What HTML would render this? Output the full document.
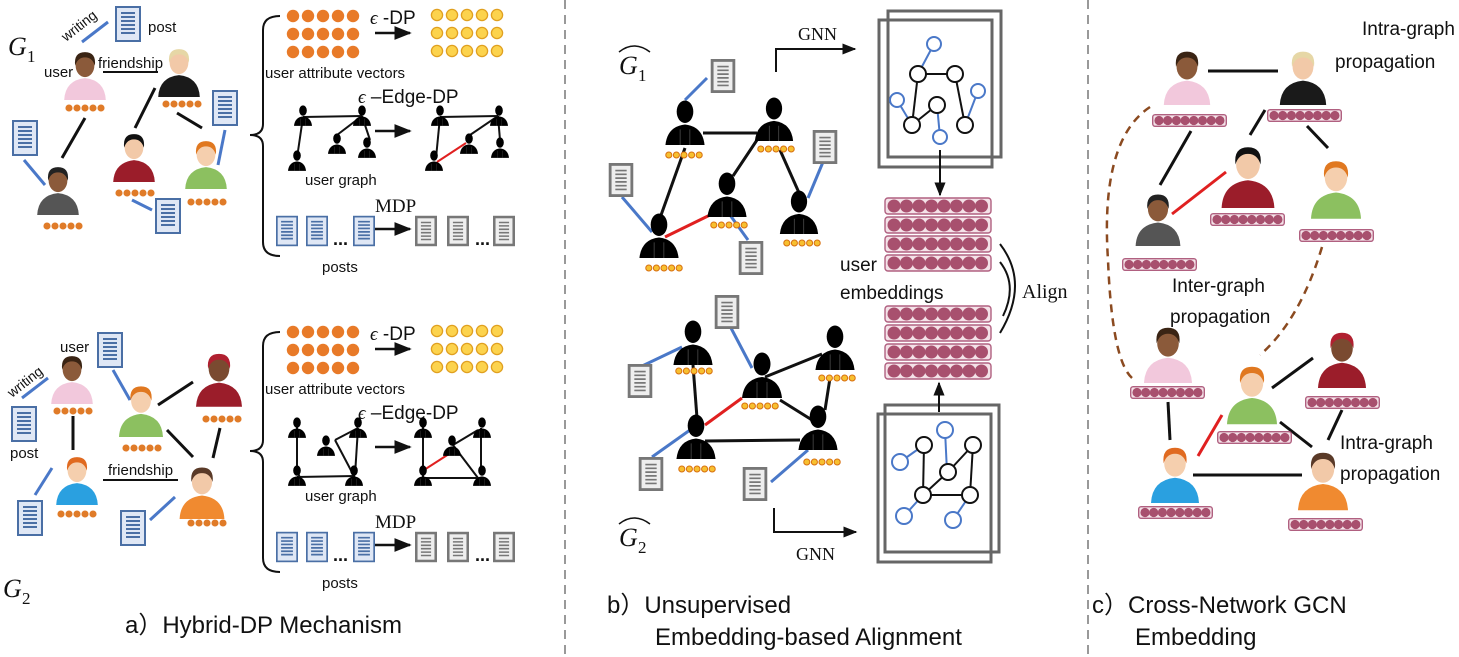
<!DOCTYPE html>
<html><head><meta charset="utf-8"><style>
html,body{margin:0;padding:0;background:#fff}
svg{display:block}
text{font-family:"Liberation Sans","Noto Sans CJK SC",sans-serif;fill:#111}
.serif{font-family:"Liberation Serif","DejaVu Serif",serif}
</style></head><body>
<svg width="1459" height="657" viewBox="0 0 1459 657" xmlns="http://www.w3.org/2000/svg">
<defs>
<symbol id="body" viewBox="0 0 40 50"><path d="M0 50 Q1 31 20 29 Q39 31 40 50Z"/></symbol>
<symbol id="head" viewBox="0 0 40 50"><ellipse cx="20" cy="17" rx="9" ry="11"/></symbol>
<symbol id="hair" viewBox="0 0 40 50"><path d="M10.5 17 Q9 4 20 4 Q31 4 29.5 17 Q27 9 20 9 Q13 9 10.5 17Z"/></symbol>
<symbol id="sil" viewBox="0 0 40 46"><ellipse cx="20" cy="12" rx="8.5" ry="11.5"/><path d="M0 46 Q2 27 20 25 Q38 27 40 46Z"/><path d="M15 30 L15 46 M25 30 L25 46" stroke="#666" stroke-width="0.6"/></symbol>
<symbol id="docb" viewBox="0 0 26 36"><rect x="1" y="1" width="24" height="34" fill="#dfe7f5" stroke="#4a6fa5" stroke-width="2"/><path d="M6 7H20M6 11H20M6 15H20M6 19H20M6 23H20M6 27H20" stroke="#4a6fa5" stroke-width="2"/></symbol>
<symbol id="docg" viewBox="0 0 26 36"><rect x="1.5" y="1.5" width="23" height="33" fill="#eee" stroke="#777" stroke-width="3"/><path d="M7 8H19M7 12H19M7 16H19M7 20H19M7 24H19M7 28H19" stroke="#777" stroke-width="1.8"/></symbol>
<symbol id="dots" viewBox="0 0 45 9"><g fill="#e07b28"><circle cx="4.5" cy="4.5" r="4"/><circle cx="13.5" cy="4.5" r="4"/><circle cx="22.5" cy="4.5" r="4"/><circle cx="31.5" cy="4.5" r="4"/><circle cx="40.5" cy="4.5" r="4"/></g></symbol>
<symbol id="dotsy" viewBox="0 0 45 9"><g fill="#f7c030" stroke="#d87010" stroke-width="1.2"><circle cx="4.5" cy="4.5" r="3.6"/><circle cx="13.5" cy="4.5" r="3.6"/><circle cx="22.5" cy="4.5" r="3.6"/><circle cx="31.5" cy="4.5" r="3.6"/><circle cx="40.5" cy="4.5" r="3.6"/></g></symbol>
<symbol id="emb" viewBox="0 0 75 13"><rect x="0.7" y="0.7" width="73.6" height="11.6" rx="2.5" fill="#f4e2e8" stroke="#b06080" stroke-width="1.4"/><g fill="#a8506e"><circle cx="7" cy="6.5" r="4.6"/><circle cx="15.7" cy="6.5" r="4.6"/><circle cx="24.4" cy="6.5" r="4.6"/><circle cx="33.1" cy="6.5" r="4.6"/><circle cx="41.8" cy="6.5" r="4.6"/><circle cx="50.5" cy="6.5" r="4.6"/><circle cx="59.2" cy="6.5" r="4.6"/><circle cx="67.9" cy="6.5" r="4.6"/></g></symbol>
<symbol id="embr" viewBox="0 0 108 18"><rect x="1" y="1" width="106" height="16" rx="3" fill="#f4e2e8" stroke="#b06080" stroke-width="1.4"/><g fill="#a8506e"><circle cx="10" cy="9" r="6.5"/><circle cx="22.5" cy="9" r="6.5"/><circle cx="35" cy="9" r="6.5"/><circle cx="47.5" cy="9" r="6.5"/><circle cx="60" cy="9" r="6.5"/><circle cx="72.5" cy="9" r="6.5"/><circle cx="85" cy="9" r="6.5"/><circle cx="97.5" cy="9" r="6.5"/></g></symbol>
<marker id="ar" viewBox="0 0 10 10" refX="9" refY="5" markerWidth="7" markerHeight="7" orient="auto"><path d="M0 1L10 5L0 9Z" fill="#111"/></marker>
</defs>

<!-- separators -->
<line x1="565" y1="0" x2="565" y2="657" stroke="#999" stroke-width="2" stroke-dasharray="9 6"/>
<line x1="1088" y1="0" x2="1088" y2="657" stroke="#999" stroke-width="2" stroke-dasharray="9 6"/>

<!-- ===== Panel a top ===== -->
<g stroke-width="3" fill="none">
<line x1="82" y1="42" x2="108" y2="22" stroke="#4a78c8"/>
<line x1="85" y1="118" x2="62" y2="158" stroke="#111"/>
<line x1="24" y1="160" x2="45" y2="185" stroke="#4a78c8"/>
<line x1="155" y1="88" x2="135" y2="128" stroke="#111"/>
<line x1="177" y1="113" x2="202" y2="128" stroke="#111"/>
<line x1="225" y1="130" x2="218" y2="165" stroke="#4a78c8"/>
<line x1="132" y1="200" x2="152" y2="210" stroke="#4a78c8"/>
<line x1="103" y1="72" x2="158" y2="72" stroke="#111" stroke-width="2"/>
</g>
<use href="#docb" x="115" y="6" width="26" height="36"/>
<use href="#docb" x="12" y="120" width="26" height="36"/>
<use href="#docb" x="212" y="90" width="26" height="36"/>
<use href="#docb" x="155" y="198" width="26" height="36"/>
<!-- persons -->
<g><use href="#body" x="63" y="48" width="44" height="52" fill="#f2c8dc"/><use href="#head" x="63" y="48" width="44" height="52" fill="#8b5a3a"/><use href="#hair" x="63" y="48" width="44" height="52" fill="#3a2414"/></g>
<use href="#dots" x="65" y="104" width="40" height="8"/>
<g><use href="#body" x="157" y="45" width="44" height="52" fill="#1a1a1a"/><use href="#head" x="157" y="45" width="44" height="52" fill="#f2c9a8"/><use href="#hair" x="157" y="45" width="44" height="52" fill="#e6d7a6"/></g>
<use href="#dots" x="162" y="100" width="40" height="8"/>
<g><use href="#body" x="36" y="163" width="44" height="52" fill="#555"/><use href="#head" x="36" y="163" width="44" height="52" fill="#8b5a3a"/><use href="#hair" x="36" y="163" width="44" height="52" fill="#222"/></g>
<use href="#dots" x="43" y="222" width="40" height="8"/>
<g><use href="#body" x="112" y="130" width="44" height="52" fill="#9b1d2a"/><use href="#head" x="112" y="130" width="44" height="52" fill="#f2c9a8"/><use href="#hair" x="112" y="130" width="44" height="52" fill="#111"/></g>
<use href="#dots" x="115" y="189" width="40" height="8"/>
<g><use href="#body" x="184" y="137" width="44" height="52" fill="#8cc060"/><use href="#head" x="184" y="137" width="44" height="52" fill="#f5cfae"/><use href="#hair" x="184" y="137" width="44" height="52" fill="#e07820"/></g>
<use href="#dots" x="187" y="198" width="40" height="8"/>
<text x="8" y="55" class="serif" font-size="26" font-style="italic">G</text><text x="27" y="62" class="serif" font-size="17">1</text>
<text x="148" y="32" font-size="15">post</text>
<text x="44" y="77" font-size="15">user</text>
<text x="98" y="68" font-size="15">friendship</text>
<text x="66" y="42" font-size="14" transform="rotate(-38 66 42)">writing</text>

<!-- ===== Panel a bottom ===== -->
<g stroke-width="3" fill="none">
<line x1="22" y1="398" x2="48" y2="378" stroke="#4a78c8"/>
<line x1="73" y1="416" x2="73" y2="450" stroke="#111"/>
<line x1="35" y1="495" x2="52" y2="468" stroke="#4a78c8"/>
<line x1="113" y1="370" x2="130" y2="400" stroke="#4a78c8"/>
<line x1="158" y1="405" x2="193" y2="382" stroke="#111"/>
<line x1="167" y1="430" x2="193" y2="457" stroke="#111"/>
<line x1="220" y1="428" x2="213" y2="458" stroke="#111"/>
<line x1="150" y1="520" x2="175" y2="497" stroke="#4a78c8"/>
<line x1="103" y1="480" x2="178" y2="480" stroke="#111" stroke-width="2"/>
</g>
<use href="#docb" x="97" y="332" width="26" height="36"/>
<use href="#docb" x="11" y="406" width="26" height="36"/>
<use href="#docb" x="17" y="500" width="26" height="36"/>
<use href="#docb" x="120" y="510" width="26" height="36"/>
<g><use href="#body" x="50" y="352" width="44" height="52" fill="#f2c8dc"/><use href="#head" x="50" y="352" width="44" height="52" fill="#8b5a3a"/><use href="#hair" x="50" y="352" width="44" height="52" fill="#3a2414"/></g>
<use href="#dots" x="53" y="407" width="40" height="8"/>
<g><use href="#body" x="55" y="453" width="44" height="52" fill="#2aa0e0"/><use href="#head" x="55" y="453" width="44" height="52" fill="#f5cfae"/><use href="#hair" x="55" y="453" width="44" height="52" fill="#e06a20"/></g>
<use href="#dots" x="57" y="510" width="40" height="8"/>
<g><use href="#body" x="119" y="382" width="44" height="55" fill="#8cc060"/><use href="#head" x="119" y="382" width="44" height="55" fill="#f5cfae"/><use href="#hair" x="119" y="382" width="44" height="55" fill="#e07820"/></g>
<use href="#dots" x="122" y="444" width="40" height="8"/>
<g><use href="#body" x="196" y="348" width="46" height="60" fill="#9b1d2a"/><use href="#head" x="196" y="348" width="46" height="60" fill="#7a4a30"/><use href="#hair" x="196" y="348" width="46" height="60" fill="#b02030"/></g>
<use href="#dots" x="202" y="415" width="40" height="8"/>
<g><use href="#body" x="179" y="463" width="46" height="56" fill="#f08a30"/><use href="#head" x="179" y="463" width="46" height="56" fill="#f2c9a8"/><use href="#hair" x="179" y="463" width="46" height="56" fill="#5a3a28"/></g>
<use href="#dots" x="187" y="519" width="40" height="8"/>
<text x="3" y="597" class="serif" font-size="26" font-style="italic">G</text><text x="22" y="604" class="serif" font-size="17">2</text>
<text x="60" y="352" font-size="15">user</text>
<text x="10" y="458" font-size="15">post</text>
<text x="108" y="475" font-size="15">friendship</text>
<text x="12" y="398" font-size="14" transform="rotate(-38 12 398)">writing</text>

<!-- ===== a right side (top & bottom) ===== -->
<g id="aright">
<path d="M280 16 Q263 16 263 30 L263 124 Q263 135 250 135 Q263 135 263 146 L263 242 Q263 256 280 256" fill="none" stroke="#111" stroke-width="2"/>
<g fill="#e87a28">
<circle cx="293" cy="16" r="6.2"/><circle cx="308" cy="16" r="6.2"/><circle cx="323" cy="16" r="6.2"/><circle cx="338" cy="16" r="6.2"/><circle cx="353" cy="16" r="6.2"/>
<circle cx="293" cy="34" r="6.2"/><circle cx="308" cy="34" r="6.2"/><circle cx="323" cy="34" r="6.2"/><circle cx="338" cy="34" r="6.2"/><circle cx="353" cy="34" r="6.2"/>
<circle cx="293" cy="52" r="6.2"/><circle cx="308" cy="52" r="6.2"/><circle cx="323" cy="52" r="6.2"/><circle cx="338" cy="52" r="6.2"/><circle cx="353" cy="52" r="6.2"/>
</g>
<g fill="#fcd34d" stroke="#e0a020" stroke-width="1.3">
<circle cx="437" cy="15" r="5.6"/><circle cx="452" cy="15" r="5.6"/><circle cx="467" cy="15" r="5.6"/><circle cx="482" cy="15" r="5.6"/><circle cx="497" cy="15" r="5.6"/>
<circle cx="437" cy="33" r="5.6"/><circle cx="452" cy="33" r="5.6"/><circle cx="467" cy="33" r="5.6"/><circle cx="482" cy="33" r="5.6"/><circle cx="497" cy="33" r="5.6"/>
<circle cx="437" cy="51" r="5.6"/><circle cx="452" cy="51" r="5.6"/><circle cx="467" cy="51" r="5.6"/><circle cx="482" cy="51" r="5.6"/><circle cx="497" cy="51" r="5.6"/>
</g>
<text x="370" y="24" font-size="19"><tspan class="serif" font-style="italic">ϵ</tspan> -DP</text>
<line x1="375" y1="33" x2="410" y2="33" stroke="#111" stroke-width="2.5" marker-end="url(#ar)"/>
<text x="265" y="78" font-size="15">user attribute vectors</text>
<text x="358" y="103" font-size="19"><tspan class="serif" font-style="italic">ϵ</tspan> –Edge-DP</text>
<line x1="375" y1="131" x2="410" y2="131" stroke="#111" stroke-width="2.5" marker-end="url(#ar)"/>
<text x="305" y="185" font-size="15">user graph</text>
<text x="375" y="212" class="serif" font-size="19">MDP</text>
<use href="#docb" x="276" y="215" width="22" height="32"/>
<use href="#docb" x="306" y="215" width="22" height="32"/>
<use href="#docb" x="353" y="215" width="22" height="32"/>
<text x="333" y="245" font-size="18" font-weight="bold">...</text>
<line x1="375" y1="229" x2="410" y2="229" stroke="#111" stroke-width="2.5" marker-end="url(#ar)"/>
<use href="#docg" x="415" y="215" width="22" height="32"/>
<use href="#docg" x="447" y="215" width="22" height="32"/>
<use href="#docg" x="493" y="215" width="22" height="32"/>
<text x="475" y="245" font-size="18" font-weight="bold">...</text>
<text x="322" y="272" font-size="15">posts</text>
</g>
<!-- top user graph -->
<g stroke="#111" stroke-width="2">
<line x1="303" y1="117" x2="362" y2="116"/><line x1="303" y1="117" x2="297" y2="158"/><line x1="362" y1="116" x2="337" y2="135"/><line x1="362" y1="116" x2="370" y2="140"/>
<line x1="440" y1="117" x2="498" y2="116"/><line x1="440" y1="117" x2="436" y2="158"/><line x1="498" y1="116" x2="470" y2="135"/><line x1="498" y1="116" x2="500" y2="140"/>
</g>
<line x1="437" y1="162" x2="466" y2="143" stroke="#e02020" stroke-width="2"/>
<g fill="#000">
<use href="#sil" x="294" y="105" width="18" height="21"/><use href="#sil" x="353" y="105" width="18" height="21"/><use href="#sil" x="328" y="133" width="18" height="21"/><use href="#sil" x="358" y="137" width="18" height="21"/><use href="#sil" x="288" y="150" width="18" height="21"/>
<use href="#sil" x="431" y="105" width="18" height="21"/><use href="#sil" x="490" y="105" width="18" height="21"/><use href="#sil" x="460" y="133" width="18" height="21"/><use href="#sil" x="491" y="137" width="18" height="21"/><use href="#sil" x="425" y="150" width="18" height="21"/>
</g>
<!-- bottom a right -->
<use href="#aright" x="0" y="316"/>
<g stroke="#111" stroke-width="2">
<line x1="297" y1="425" x2="297" y2="470"/><line x1="335" y1="440" x2="358" y2="428"/><line x1="335" y1="440" x2="355" y2="478"/><line x1="358" y1="428" x2="355" y2="475"/><line x1="297" y1="477" x2="355" y2="476"/><line x1="297" y1="470" x2="300" y2="478"/>
<line x1="423" y1="425" x2="423" y2="478"/><line x1="453" y1="445" x2="478" y2="430"/><line x1="453" y1="445" x2="478" y2="478"/><line x1="481" y1="428" x2="481" y2="475"/><line x1="423" y1="478" x2="478" y2="478"/>
</g>
<line x1="424" y1="470" x2="452" y2="452" stroke="#e02020" stroke-width="2"/>
<g fill="#000">
<use href="#sil" x="288" y="417" width="18" height="21"/><use href="#sil" x="349" y="417" width="18" height="21"/><use href="#sil" x="317" y="435" width="18" height="21"/><use href="#sil" x="288" y="465" width="18" height="21"/><use href="#sil" x="345" y="465" width="18" height="21"/>
<use href="#sil" x="414" y="417" width="18" height="21"/><use href="#sil" x="473" y="417" width="18" height="21"/><use href="#sil" x="443" y="435" width="18" height="21"/><use href="#sil" x="414" y="465" width="18" height="21"/><use href="#sil" x="473" y="465" width="18" height="21"/>
</g>
<text x="125" y="633" font-size="24">a）Hybrid-DP Mechanism</text>

<!-- ===== Panel b ===== -->
<g stroke-width="3" fill="none">
<line x1="703" y1="133" x2="757" y2="133" stroke="#111"/>
<line x1="685" y1="148" x2="660" y2="218" stroke="#111"/>
<line x1="757" y1="140" x2="733" y2="176" stroke="#111"/>
<line x1="780" y1="150" x2="800" y2="195" stroke="#111"/>
<line x1="665" y1="237" x2="710" y2="215" stroke="#e02020"/>
<line x1="685" y1="100" x2="707" y2="78" stroke="#4a78c8"/>
<line x1="823" y1="162" x2="808" y2="198" stroke="#4a78c8"/>
<line x1="622" y1="197" x2="652" y2="232" stroke="#4a78c8"/>
<line x1="730" y1="215" x2="748" y2="240" stroke="#4a78c8"/>
<!-- bottom -->
<line x1="693" y1="365" x2="697" y2="418" stroke="#111"/>
<line x1="765" y1="377" x2="822" y2="354" stroke="#111"/>
<line x1="780" y1="400" x2="812" y2="420" stroke="#111"/>
<line x1="830" y1="378" x2="825" y2="410" stroke="#111"/>
<line x1="705" y1="441" x2="800" y2="440" stroke="#111"/>
<line x1="705" y1="425" x2="742" y2="398" stroke="#e02020"/>
<line x1="640" y1="367" x2="682" y2="347" stroke="#4a78c8"/>
<line x1="731" y1="328" x2="752" y2="368" stroke="#4a78c8"/>
<line x1="652" y1="457" x2="690" y2="430" stroke="#4a78c8"/>
<line x1="771" y1="482" x2="808" y2="450" stroke="#4a78c8"/>
</g>
<use href="#docg" x="710" y="59" width="26" height="34"/>
<use href="#docg" x="812" y="130" width="26" height="34"/>
<use href="#docg" x="608" y="163" width="26" height="34"/>
<use href="#docg" x="738" y="241" width="26" height="34"/>
<use href="#docg" x="627" y="364" width="26" height="34"/>
<use href="#docg" x="714" y="295" width="26" height="34"/>
<use href="#docg" x="638" y="457" width="26" height="34"/>
<use href="#docg" x="742" y="467" width="26" height="34"/>
<g fill="#000">
<use href="#sil" x="665" y="100" width="40" height="45"/><use href="#sil" x="754" y="97" width="40" height="44"/><use href="#sil" x="707" y="172" width="40" height="45"/><use href="#sil" x="779" y="190" width="40" height="44"/><use href="#sil" x="639" y="213" width="40" height="45"/>
<use href="#sil" x="673" y="320" width="40" height="45"/><use href="#sil" x="742" y="352" width="40" height="46"/><use href="#sil" x="815" y="325" width="40" height="45"/><use href="#sil" x="676" y="414" width="40" height="45"/><use href="#sil" x="798" y="405" width="40" height="45"/>
</g>
<use href="#dotsy" x="665" y="151" width="38" height="8"/><use href="#dotsy" x="757" y="145" width="38" height="8"/><use href="#dotsy" x="710" y="221" width="38" height="8"/><use href="#dotsy" x="783" y="239" width="38" height="8"/><use href="#dotsy" x="645" y="264" width="38" height="8"/>
<use href="#dotsy" x="675" y="367" width="38" height="8"/><use href="#dotsy" x="741" y="402" width="38" height="8"/><use href="#dotsy" x="818" y="374" width="38" height="8"/><use href="#dotsy" x="678" y="465" width="38" height="8"/><use href="#dotsy" x="803" y="458" width="38" height="8"/>
<!-- G hats -->
<text x="619" y="74" class="serif" font-size="26" font-style="italic">G</text><text x="638" y="81" class="serif" font-size="17">1</text>
<path d="M619 52 Q634 40 650 52" fill="none" stroke="#111" stroke-width="1.5"/>
<text x="619" y="546" class="serif" font-size="26" font-style="italic">G</text><text x="638" y="553" class="serif" font-size="17">2</text>
<path d="M619 524 Q634 512 650 524" fill="none" stroke="#111" stroke-width="1.5"/>
<!-- GNN arrows -->
<path d="M776 72 L776 49 L855 49" fill="none" stroke="#111" stroke-width="2" marker-end="url(#ar)"/>
<text x="798" y="40" class="serif" font-size="18">GNN</text>
<path d="M774 508 L774 532 L856 532" fill="none" stroke="#111" stroke-width="2" marker-end="url(#ar)"/>
<text x="796" y="560" class="serif" font-size="18">GNN</text>
<!-- frames -->
<rect x="888" y="11" width="113" height="146" fill="none" stroke="#666" stroke-width="3"/>
<rect x="879" y="20" width="113" height="147" fill="none" stroke="#666" stroke-width="3"/>
<rect x="885" y="405" width="114" height="147" fill="none" stroke="#666" stroke-width="3"/>
<rect x="878" y="414" width="113" height="148" fill="none" stroke="#666" stroke-width="3"/>
<!-- inner graph top -->
<g fill="none" stroke-width="2">
<g stroke="#4a78c8"><line x1="934" y1="44" x2="918" y2="74"/><line x1="897" y1="100" x2="912" y2="125"/><line x1="978" y1="91" x2="965" y2="125"/><line x1="940" y1="137" x2="937" y2="105"/>
<circle cx="934" cy="44" r="7" fill="#fff"/><circle cx="897" cy="100" r="7" fill="#fff"/><circle cx="978" cy="91" r="7" fill="#fff"/><circle cx="940" cy="137" r="7" fill="#fff"/></g>
<g stroke="#111"><line x1="918" y1="74" x2="955" y2="74"/><line x1="918" y1="74" x2="912" y2="125"/><line x1="955" y1="74" x2="965" y2="125"/><line x1="912" y1="125" x2="937" y2="105"/>
<circle cx="918" cy="74" r="8" fill="#fff"/><circle cx="955" cy="74" r="8" fill="#fff"/><circle cx="937" cy="105" r="8" fill="#fff"/><circle cx="912" cy="125" r="8" fill="#fff"/><circle cx="965" cy="125" r="8" fill="#fff"/></g>
</g>
<!-- inner graph bottom -->
<g fill="none" stroke-width="2">
<g stroke="#4a78c8"><line x1="945" y1="430" x2="947" y2="472"/><line x1="900" y1="462" x2="924" y2="445"/><line x1="904" y1="516" x2="923" y2="495"/><line x1="953" y1="520" x2="970" y2="495"/>
<circle cx="945" cy="430" r="8" fill="#fff"/><circle cx="900" cy="462" r="8" fill="#fff"/><circle cx="904" cy="516" r="8" fill="#fff"/><circle cx="953" cy="520" r="8" fill="#fff"/></g>
<g stroke="#111"><line x1="924" y1="445" x2="923" y2="495"/><line x1="923" y1="495" x2="970" y2="495"/><line x1="973" y1="445" x2="970" y2="495"/><line x1="948" y1="472" x2="973" y2="445"/><line x1="948" y1="472" x2="923" y2="495"/>
<circle cx="924" cy="445" r="8" fill="#fff"/><circle cx="973" cy="445" r="8" fill="#fff"/><circle cx="948" cy="472" r="8" fill="#fff"/><circle cx="923" cy="495" r="8" fill="#fff"/><circle cx="970" cy="495" r="8" fill="#fff"/></g>
</g>
<line x1="940" y1="150" x2="940" y2="195" stroke="#111" stroke-width="2" marker-end="url(#ar)"/>
<line x1="939" y1="412" x2="939" y2="383" stroke="#111" stroke-width="2" marker-end="url(#ar)"/>
<use href="#embr" x="884" y="197" width="108" height="18"/><use href="#embr" x="884" y="216" width="108" height="18"/><use href="#embr" x="884" y="235" width="108" height="18"/><use href="#embr" x="884" y="254" width="108" height="18"/>
<use href="#embr" x="884" y="305" width="108" height="18"/><use href="#embr" x="884" y="324" width="108" height="18"/><use href="#embr" x="884" y="343" width="108" height="18"/><use href="#embr" x="884" y="362" width="108" height="18"/>
<text x="840" y="271" font-size="19">user</text>
<text x="840" y="299" font-size="19">embeddings</text>
<path d="M1000 262 Q1018 285 1003 316" fill="none" stroke="#111" stroke-width="2"/>
<path d="M1000 244 Q1030 283 1000 333" fill="none" stroke="#111" stroke-width="2"/>
<text x="1022" y="298" class="serif" font-size="20">Align</text>
<text x="607" y="613" font-size="24">b）Unsupervised</text>
<text x="655" y="645" font-size="24">Embedding-based Alignment</text>

<!-- ===== Panel c ===== -->
<g stroke-width="3" fill="none">
<line x1="1208" y1="71" x2="1278" y2="71" stroke="#111"/>
<line x1="1191" y1="131" x2="1160" y2="185" stroke="#111"/>
<line x1="1265" y1="110" x2="1250" y2="135" stroke="#111"/>
<line x1="1307" y1="126" x2="1328" y2="148" stroke="#111"/>
<line x1="1226" y1="172" x2="1172" y2="214" stroke="#e02020"/>
<line x1="1168" y1="402" x2="1170" y2="440" stroke="#111"/>
<line x1="1272" y1="388" x2="1313" y2="358" stroke="#111"/>
<line x1="1280" y1="422" x2="1312" y2="447" stroke="#111"/>
<line x1="1342" y1="410" x2="1328" y2="440" stroke="#111"/>
<line x1="1193" y1="475" x2="1302" y2="475" stroke="#111"/>
<line x1="1198" y1="456" x2="1222" y2="415" stroke="#e02020"/>
<path d="M1150 107 Q1100 140 1108 260 Q1112 360 1132 378" stroke="#8b4a20" stroke-width="2.5" stroke-dasharray="8 6"/>
<path d="M1322 247 Q1300 320 1260 355" stroke="#8b4a20" stroke-width="2.5" stroke-dasharray="8 6"/>
</g>
<g><use href="#body" x="1161" y="47" width="52" height="58" fill="#f2c8dc"/><use href="#head" x="1161" y="47" width="52" height="58" fill="#8b5a3a"/><use href="#hair" x="1161" y="47" width="52" height="58" fill="#3a2414"/></g>
<use href="#emb" x="1152" y="114" width="75" height="13"/>
<g><use href="#body" x="1277" y="47" width="52" height="58" fill="#1a1a1a"/><use href="#head" x="1277" y="47" width="52" height="58" fill="#f2c9a8"/><use href="#hair" x="1277" y="47" width="52" height="58" fill="#e6d7a6"/></g>
<use href="#emb" x="1267" y="109" width="75" height="13"/>
<g><use href="#body" x="1221" y="142" width="54" height="66" fill="#9b1d2a"/><use href="#head" x="1221" y="142" width="54" height="66" fill="#f2c9a8"/><use href="#hair" x="1221" y="142" width="54" height="66" fill="#111"/></g>
<use href="#emb" x="1210" y="213" width="75" height="13"/>
<g><use href="#body" x="1132" y="190" width="52" height="56" fill="#555"/><use href="#head" x="1132" y="190" width="52" height="56" fill="#8b5a3a"/><use href="#hair" x="1132" y="190" width="52" height="56" fill="#222"/></g>
<use href="#emb" x="1122" y="258" width="75" height="13"/>
<g><use href="#body" x="1311" y="155" width="50" height="65" fill="#8cc060"/><use href="#head" x="1311" y="155" width="50" height="65" fill="#f5cfae"/><use href="#hair" x="1311" y="155" width="50" height="65" fill="#e07820"/></g>
<use href="#emb" x="1299" y="229" width="75" height="13"/>

<g><use href="#body" x="1142" y="323" width="52" height="60" fill="#f2c8dc"/><use href="#head" x="1142" y="323" width="52" height="60" fill="#8b5a3a"/><use href="#hair" x="1142" y="323" width="52" height="60" fill="#3a2414"/></g>
<use href="#emb" x="1130" y="386" width="75" height="13"/>
<g><use href="#body" x="1227" y="360" width="50" height="66" fill="#8cc060"/><use href="#head" x="1227" y="360" width="50" height="66" fill="#f5cfae"/><use href="#hair" x="1227" y="360" width="50" height="66" fill="#e07820"/></g>
<use href="#emb" x="1217" y="431" width="75" height="13"/>
<g><use href="#body" x="1318" y="325" width="48" height="66" fill="#9b1d2a"/><use href="#head" x="1318" y="325" width="48" height="66" fill="#7a4a30"/><use href="#hair" x="1318" y="325" width="48" height="66" fill="#b02030"/></g>
<use href="#emb" x="1305" y="396" width="75" height="13"/>
<g><use href="#body" x="1150" y="443" width="50" height="60" fill="#2aa0e0"/><use href="#head" x="1150" y="443" width="50" height="60" fill="#f5cfae"/><use href="#hair" x="1150" y="443" width="50" height="60" fill="#e06a20"/></g>
<use href="#emb" x="1138" y="506" width="75" height="13"/>
<g><use href="#body" x="1298" y="447" width="50" height="64" fill="#f08a30"/><use href="#head" x="1298" y="447" width="50" height="64" fill="#f2c9a8"/><use href="#hair" x="1298" y="447" width="50" height="64" fill="#5a3a28"/></g>
<use href="#emb" x="1288" y="518" width="75" height="13"/>

<text x="1362" y="35" font-size="19">Intra-graph</text>
<text x="1335" y="68" font-size="19">propagation</text>
<text x="1172" y="292" font-size="19">Inter-graph</text>
<text x="1170" y="323" font-size="19">propagation</text>
<text x="1340" y="449" font-size="19">Intra-graph</text>
<text x="1340" y="480" font-size="19">propagation</text>
<text x="1092" y="613" font-size="24">c）Cross-Network GCN</text>
<text x="1135" y="645" font-size="24">Embedding</text>
</svg>
</body></html>
